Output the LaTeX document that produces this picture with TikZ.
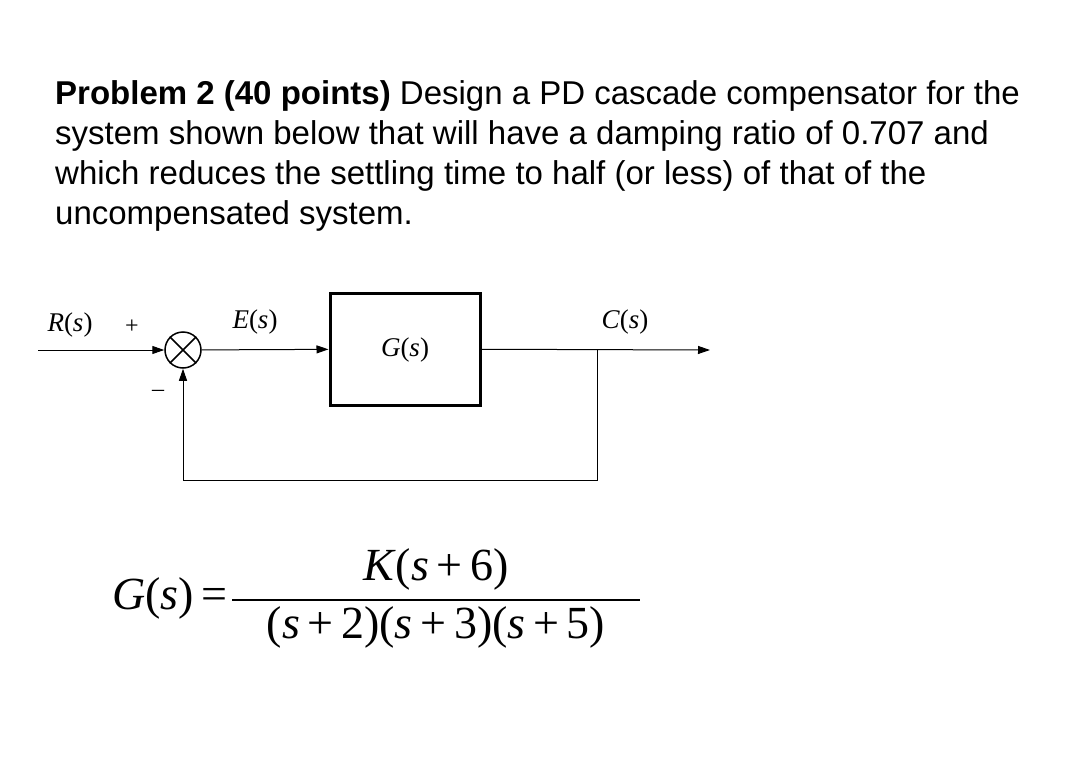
\documentclass[tikz,border=0pt]{standalone}
\usepackage{fontspec}
\setmainfont{Liberation Sans}
\newfontfamily\serifrm{Liberation Serif}
\usetikzlibrary{arrows.meta}
\tikzset{line/.style={line width=1pt},arr/.style={line,-{Triangle[length=12pt,width=8pt]}},
lbl/.style={font=\serifrm\fontsize{27}{30}\selectfont},
eqf/.style={font=\serifrm\fontsize{46}{52}\selectfont,inner sep=0}}
\newcommand{\pl}{\,+\,}
\begin{document}
\begin{tikzpicture}[x=1pt,y=-1pt]
\useasboundingbox (0,0) rectangle (1074,784);
\node[anchor=north west,align=left,inner sep=0,font=\fontsize{33}{40}\selectfont] (txt) at (55,80)
{\textbf{Problem 2 (40 points)} Design a PD cascade compensator for the\\
system shown below that will have a damping ratio of 0.707 and\\
which reduces the settling time to half (or less) of that of the\\
uncompensated system.};
\coordinate (in) at (38,350);
\node[circle,draw,line width=1.5pt,minimum size=36pt,inner sep=0] (sum) at (183,350) {};
\draw[line width=1.5pt] (sum.45)--(sum.225) (sum.135)--(sum.315);
\node[draw,line width=3pt,minimum width=150pt,minimum height=112pt] (G) at (405,349) {};
\node[lbl] (Gl) at (405,350) {\textit{G}(\textit{s})};
\coordinate (out) at (710,350);
\coordinate (tap) at (597,350);
\coordinate (fb1) at (597,480);
\coordinate (fb2) at (183,480);
\draw[arr] (in)--(sum);
\draw[arr] (sum)--(G);
\draw[arr] (G)--(out);
\draw[line] (tap)--(fb1)--(fb2);
\draw[arr] (fb2)--(sum);
\node[lbl] (R) at (70,325) {\textit{R}(\textit{s})};
\node[font=\serifrm\fontsize{24}{26}\selectfont] (plus) at (132,327) {+};
\node[font=\serifrm\fontsize{24}{26}\selectfont] (minus) at (158,393) {\textendash};
\node[lbl] (E) at (255,322) {\textit{E}(\textit{s})};
\node[lbl] (C) at (625,322) {\textit{C}(\textit{s})};
\node[eqf,anchor=east] (lhs) at (228,598) {\textit{G}(\textit{s})\,=};
\coordinate (fl) at (232,600);
\coordinate (fr) at (640,600);
\draw[line width=1.2pt] (fl)--(fr);
\node[eqf,anchor=south] (num) at (436,590) {\textit{K}(\textit{s}\pl6)};
\node[eqf,anchor=north] (den) at (436,606) {(\textit{s}\pl2)(\textit{s}\pl3)(\textit{s}\pl5)};
\end{tikzpicture}
\end{document}
